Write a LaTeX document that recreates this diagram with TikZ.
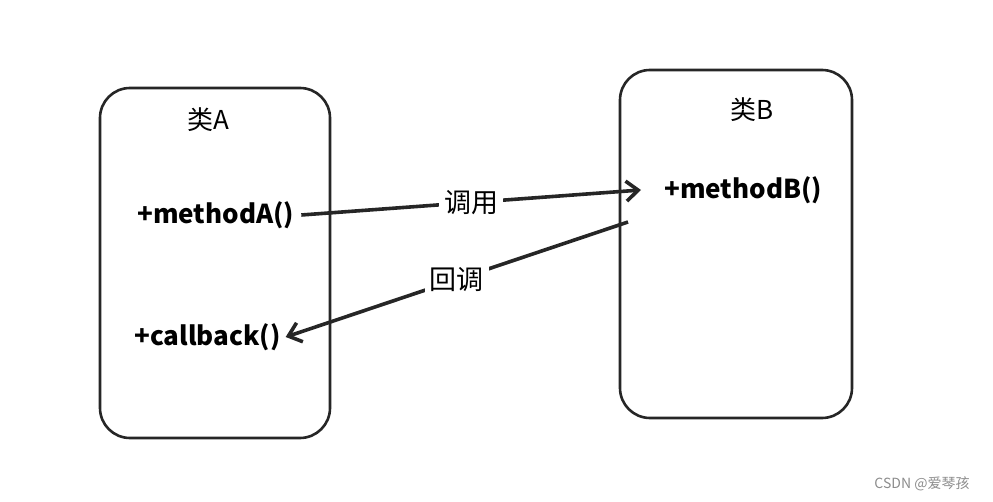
\documentclass[tikz,border=0pt]{standalone}
\usepackage{fontspec}
\setmainfont{Noto Sans CJK SC}
\usetikzlibrary{arrows.meta,positioning}
\tikzset{%
  klass/.style={draw=black!85, line width=2.6pt, rounded corners=30pt},
  member/.style={font=\fontsize{26}{30}\selectfont\bfseries, inner sep=1pt, anchor=west},
  title/.style={font=\fontsize{26}{30}\selectfont, inner sep=1pt},
  link/.style={-{Straight Barb[length=12pt,width=20pt]}, line width=3.6pt, draw=black!85},
  link label/.style={fill=white, font=\fontsize{27}{31}\selectfont, inner sep=5pt}
}
\begin{document}
\begin{tikzpicture}[x=1pt, y=-1pt]
 \useasboundingbox (0,0) rectangle (993,502);

 % classes
 \draw[klass] (100,88) rectangle (330,438);
 \draw[klass] (620,70) rectangle (852,418);

 \node[title] (ta) at (208,120) {类A};
 \node[title] (tb) at (752,110) {类B};
 \node[member] (ma) at (136,215) {+methodA()};
 \node[member] (cb) at (133,337) {+callback()};
 \node[member] (mb) at (663,190) {+methodB()};

 \coordinate (mbin) at (641,190);
 \coordinate (mbout) at (628,222);

 \draw[link] ([xshift=6pt]ma.east) -- node[link label, pos=0.5] {调用} (mbin);
 \draw[link] (mbout) -- node[link label, pos=0.5] {回调} ([xshift=4pt]cb.east);

 \node[text=black!45, font=\fontsize{14}{16}\selectfont] (mark) at (922,484) {CSDN @爱琴孩};
\end{tikzpicture}
\end{document}
